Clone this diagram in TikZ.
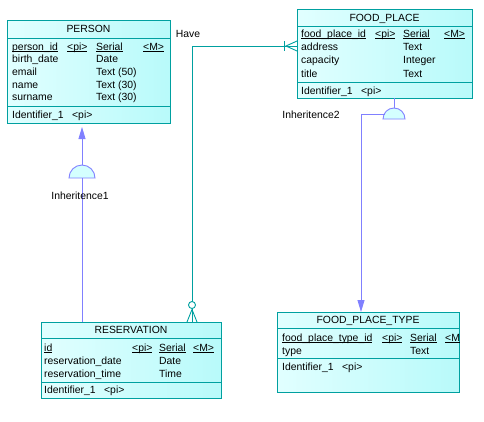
\documentclass[tikz,border=0pt]{standalone}
\usepackage{fontspec}
\setmainfont{Liberation Sans}
\usepackage{tikz}
\usetikzlibrary{arrows.meta,positioning,shapes.geometric}
\definecolor{entline}{RGB}{0,160,160}
\definecolor{entlight}{RGB}{225,255,255}
\definecolor{entdark}{RGB}{184,250,250}
\definecolor{inhblue}{RGB}{128,128,255}
\definecolor{inhfill}{RGB}{212,255,255}
% underline close to the baseline, as for key columns
\newcommand{\pkline}[1]{\setbox0\hbox{#1}\rlap{\rule[-1.4pt]{\wd0}{0.5pt}}\box0}

\begin{document}
\begin{tikzpicture}[x=1pt,y=-1pt,font=\fontsize{10.4}{12}\selectfont,
  ent/.style={draw=entline, line width=1pt, left color=entlight, right color=entdark,
              inner sep=0pt, outer sep=0pt},
  sep/.style={draw=entline, line width=0.9pt},
  ttl/.style={anchor=base, inner sep=0pt},
  att/.style={anchor=base west, inner sep=0pt},
  inh/.style={draw=inhblue, line width=0.9pt},
  half/.style={semicircle, draw=inhblue, fill=inhfill, line width=0.9pt,
               inner sep=0pt, outer sep=0pt, anchor=chord center},
  tip/.style={-{Triangle[length=12pt,width=7pt]}},
  rel/.style={draw=entline, line width=0.9pt}]
\useasboundingbox (0,0) rectangle (484,421);
% --- PERSON ---
\node[ent, minimum width=163pt, minimum height=103pt] (person) at (88.5,71.5) {};
\draw[sep] (person.west |- 0,38) -- (person.east |- 0,38);
\draw[sep] (person.west |- 0,106) -- (person.east |- 0,106);
\node[ttl] (personT) at (88.5,32.5) {PERSON};
\node[att] (pid) at (12,50) {\pkline{person\_id}};
\node[att] (pidpi) at (67,50) {\pkline{\textless pi\textgreater}};
\node[att] (pidty) at (96,50) {\pkline{Serial}};
\node[att] (pidm) at (143,50) {\pkline{\textless M\textgreater}};
\node[att] (pbd) at (12,62.7) {birth\_date};
\node[att] (pbdty) at (96,62.7) {Date};
\node[att] (pem) at (12,75.4) {email};
\node[att] (pemty) at (96,75.4) {Text (50)};
\node[att] (pna) at (12,88.1) {name};
\node[att] (pnaty) at (96,88.1) {Text (30)};
\node[att] (psu) at (12,100.8) {surname};
\node[att] (psuty) at (96,100.8) {Text (30)};
\node[att] (pide) at (12,118) {Identifier\_1\hspace{8.5pt}\textless pi\textgreater};
% --- FOOD_PLACE ---
\node[ent, minimum width=175pt, minimum height=89pt] (foodplace) at (384.5,53.5) {};
\draw[sep] (foodplace.west |- 0,26) -- (foodplace.east |- 0,26);
\draw[sep] (foodplace.west |- 0,82) -- (foodplace.east |- 0,82);
\node[ttl] (foodplaceT) at (384.5,21) {FOOD\_PLACE};
\node[att] (fid) at (301,37.5) {\pkline{food\_place\_id}};
\node[att] (fidpi) at (375,37.5) {\pkline{\textless pi\textgreater}};
\node[att] (fidty) at (403,37.5) {\pkline{Serial}};
\node[att] (fidm) at (444,37.5) {\pkline{\textless M\textgreater}};
\node[att] (fad) at (301,50.9) {address};
\node[att] (fadty) at (403,50.9) {Text};
\node[att] (fca) at (301,63.9) {capacity};
\node[att] (fcaty) at (403,63.9) {Integer};
\node[att] (fti) at (301,77.2) {title};
\node[att] (ftity) at (403,77.2) {Text};
\node[att] (fide) at (301,94.2) {Identifier\_1\hspace{8.5pt}\textless pi\textgreater};
% --- RESERVATION ---
\node[ent, minimum width=180pt, minimum height=76pt] (reservation) at (131,360) {};
\draw[sep] (reservation.west |- 0,338) -- (reservation.east |- 0,338);
\draw[sep] (reservation.west |- 0,382) -- (reservation.east |- 0,382);
\node[ttl] (reservationT) at (131,333.8) {RESERVATION};
\node[att] (rid) at (44,351.2) {\pkline{id}};
\node[att] (ridpi) at (132,351.2) {\pkline{\textless pi\textgreater}};
\node[att] (ridty) at (159,351.2) {\pkline{Serial}};
\node[att] (ridm) at (193,351.2) {\pkline{\textless M\textgreater}};
\node[att] (rda) at (44,364) {reservation\_date};
\node[att] (rdaty) at (159,364) {Date};
\node[att] (rtm) at (44,377.2) {reservation\_time};
\node[att] (rtmty) at (159,377.2) {Time};
\node[att] (ride) at (44,393.2) {Identifier\_1\hspace{8.5pt}\textless pi\textgreater};
% --- FOOD_PLACE_TYPE ---
\node[ent, minimum width=182pt, minimum height=80pt] (fptype) at (368,352) {};
\draw[sep] (fptype.west |- 0,328) -- (fptype.east |- 0,328);
\draw[sep] (fptype.west |- 0,358) -- (fptype.east |- 0,358);
\node[ttl] (fptypeT) at (368,323.8) {FOOD\_PLACE\_TYPE};
\node[att] (tid) at (282,341.2) {\pkline{food\_place\_type\_id}};
\node[att] (tidpi) at (382,341.2) {\pkline{\textless pi\textgreater}};
\node[att] (tidty) at (410,341.2) {\pkline{Serial}};
\node[att] (tidm) at (445,341.2) {\pkline{\textless M}};
\node[att] (tty) at (282,354.2) {type};
\node[att] (ttyty) at (410,354.2) {Text};
\node[att] (tide) at (282,370.2) {Identifier\_1\hspace{8.5pt}\textless pi\textgreater};
% --- Inheritence1 ---
\node[half, minimum width=26pt] (inh1) at (82,178) {};
\coordinate (inh1tip) at (82,127);
\draw[inh, tip] (inh1.apex) -- (inh1tip);
\draw[inh] (inh1.chord center) -- (inh1.chord center |- reservation.north);
\node (lbl1) at (80,196) {Inheritence1};
% --- Inheritence2 ---
\node[half, minimum width=22pt] (inh2) at (394,119) {};
\draw[inh] (inh2.apex) -- (inh2.apex |- foodplace.south);
\coordinate (inh2side) at (384.5,114);
\coordinate (fptin) at (361,312);
\draw[inh, tip] (inh2side) -| (fptin);
\node (lbl2) at (311,115) {Inheritence2};
% --- Have ---
\coordinate (haveR) at (192,322);
\coordinate (haveF) at (297,46);
\draw[rel] (haveR) |- (haveF);
\draw[rel] ([shift={(-13,-5)}]haveF) -- ([shift={(-13,5)}]haveF);
\draw[rel] ([shift={(0,-5)}]haveF) -- ([shift={(-11,0)}]haveF) -- ([shift={(0,5)}]haveF);
\draw[rel] ([shift={(-5,0)}]haveR) -- ([shift={(0,-12.5)}]haveR) -- ([shift={(5,0)}]haveR);
\draw[rel, fill=white] ([shift={(0,-17)}]haveR) circle (3.5);
\node (haveL) at (188,34) {Have};
\end{tikzpicture}
\end{document}
